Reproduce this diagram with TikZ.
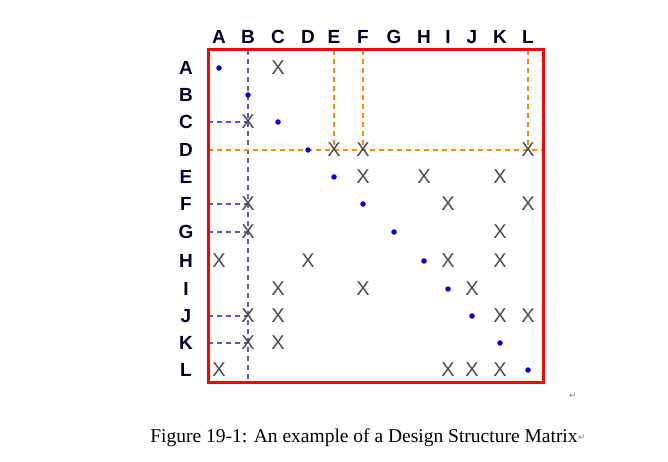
\documentclass[tikz,border=0pt]{standalone}
\usepackage{fontspec}
\setmainfont{Liberation Serif}
\setsansfont{Liberation Sans}
\newfontfamily\djv{DejaVu Sans}
\begin{document}
\begin{tikzpicture}[x=1pt,y=-1pt,
  hdr/.style={font=\sffamily\bfseries\fontsize{19}{19}\selectfont,inner sep=0pt,text=black!85!blue},
  xmark/.style={font=\sffamily\fontsize{20}{20}\selectfont,inner sep=0pt,text=black!70},
  dotm/.style={circle,fill=blue!85!black,inner sep=0pt,minimum size=5.5pt},
  bdash/.style={draw=blue!45!gray!90,line width=1.3pt,dash pattern=on 5pt off 4pt},
  odash/.style={draw=orange!90!yellow,line width=1.3pt,dash pattern=on 5pt off 4pt},
  frame/.style={draw=red,line width=3pt},
  retmark/.style={font=\djv\fontsize{9}{9}\selectfont,text=gray,inner sep=0pt}]
\useasboundingbox (0,0) rectangle (668,462);
\def\cx{{219,248,278,308,334,363,394,424,448,472,500,528}}
\def\ry{{68,95,122,150,177,204,232,261,289,316,343,370}}
\coordinate (top) at (0,50);
\coordinate (left) at (208,0);
\coordinate (right) at (543,0);
\foreach \l [count=\i from 0] in {A,B,C,D,E,F,G,H,I,J,K,L}{
  \pgfmathsetmacro\xx{\cx[\i]}
  \pgfmathsetmacro\yy{\ry[\i]}
  \node[hdr] (c\l) at (\xx,37) {\l};
  \node[hdr] (r\l) at (186,\yy) {\l};
}
% guide lines
\coordinate (bt) at (248,50); \coordinate (bb) at (248,382);
\draw[bdash] (bt) -- (bb);
\foreach \r in {C,F,G,J,K}{ \draw[bdash] (left |- r\r) -- (cB |- r\r); }
\foreach \c in {E,F,L}{ \draw[odash] (c\c |- top) -- (c\c |- rD); }
\draw[odash] (left |- rD) -- (right |- rD);
% dots
\foreach \l in {A,...,L}{ \node[dotm] (d\l) at (c\l |- r\l) {}; }
% X marks
\foreach \r/\c in {A/C,C/B,D/E,D/F,D/L,E/F,E/H,E/K,F/B,F/I,F/L,G/B,G/K,H/A,H/D,H/I,H/K,I/C,I/F,I/J,J/B,J/C,J/K,J/L,K/B,K/C,L/A,L/I,L/J,L/K}{
  \node[xmark] (x\r\c) at (c\c |- r\r) {X};
}
\node[frame,minimum width=335pt,minimum height=332pt,inner sep=0pt] (fr) at (375.5,216) {};
\node[retmark] (m1) at (573,396) {↵};
\node[font=\fontsize{19.5}{19.5}\selectfont,inner sep=0pt] (cap) at (364,438) {Figure 19-1: An example of a Design Structure Matrix};
\node[retmark,anchor=west] (m2) at (cap.east) {↵};
\end{tikzpicture}
\end{document}
